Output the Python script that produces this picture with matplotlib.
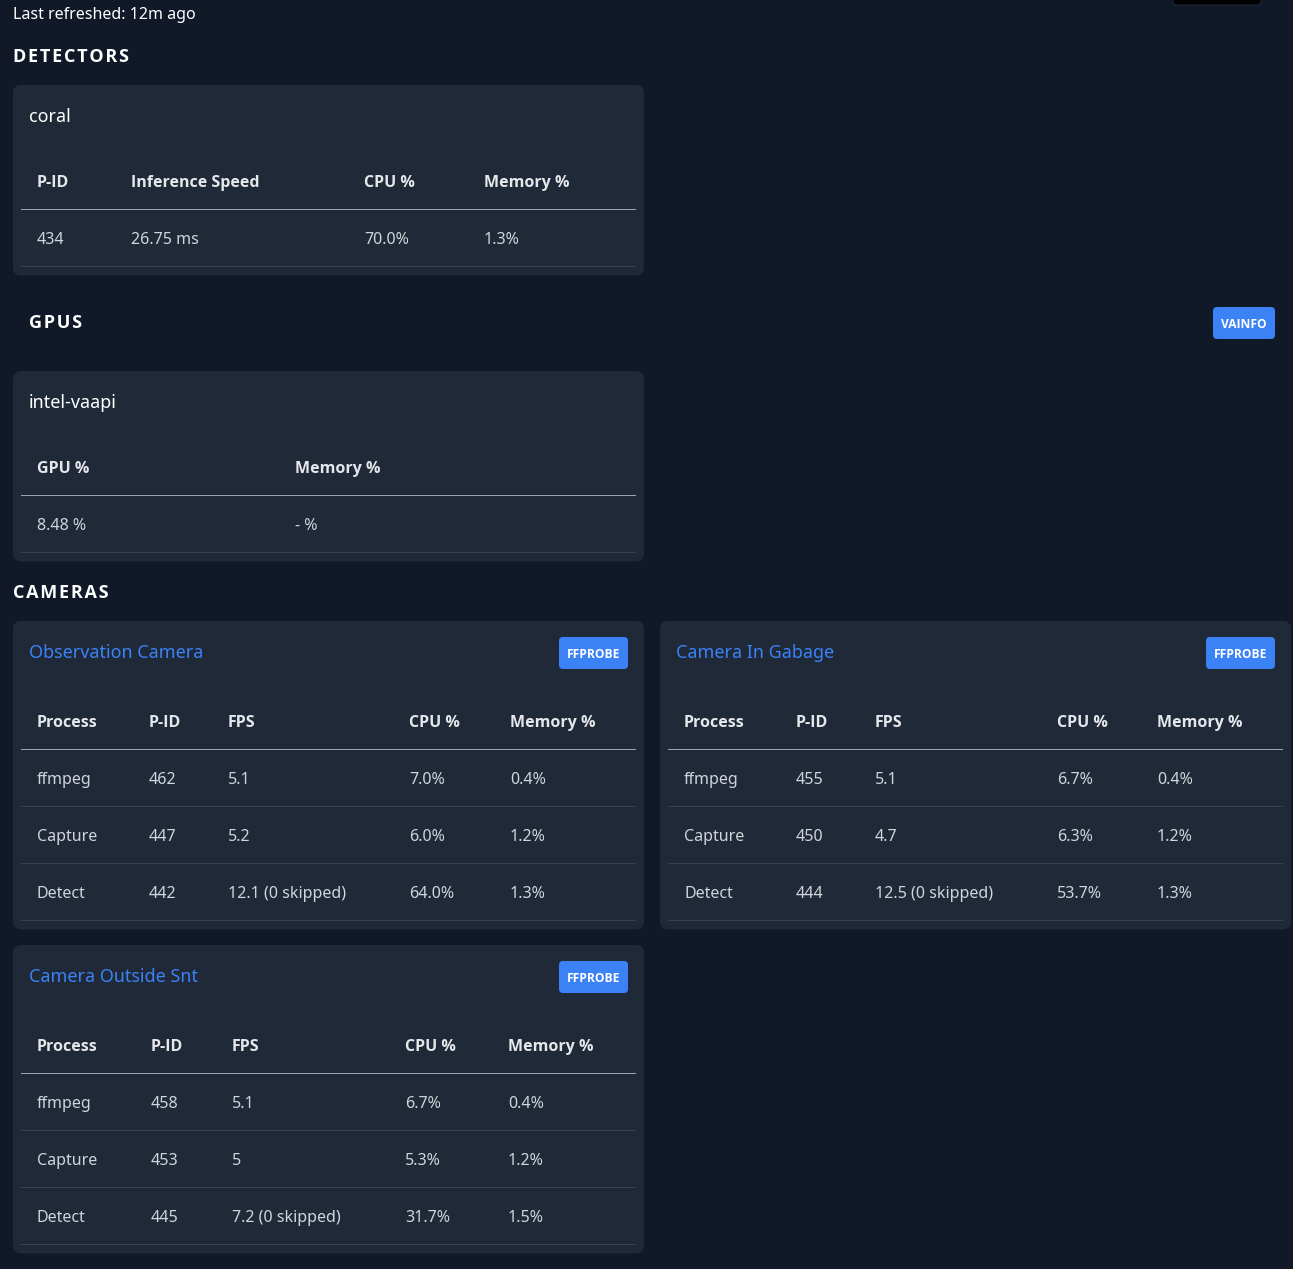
import matplotlib
matplotlib.use('Agg')
import matplotlib.pyplot as plt
from matplotlib.patches import FancyBboxPatch

plt.rcParams['font.family'] = ['Noto Sans', 'DejaVu Sans']

BG = '#111827'
CARD = '#1f2937'
BLUE = '#3b82f6'
PX = 0.72  # css px to points at dpi 100
# the Noto Sans here is a variable font with no bold face, Open Sans is close
BOLD = ['Open Sans', 'DejaVu Sans']

refreshed = 'Last refreshed: 12m ago'
section_names = ['DETECTORS', 'GPUS', 'CAMERAS']

coral_head = ['P-ID', 'Inference Speed', 'CPU %', 'Memory %']
coral_rows = [['434', '26.75 ms', '70.0%', '1.3%']]

gpu_head = ['GPU %', 'Memory %']
gpu_rows = [['8.48 %', '- %']]

cam_head = ['Process', 'P-ID', 'FPS', 'CPU %', 'Memory %']
observation_rows = [['ffmpeg', '462', '5.1', '7.0%', '0.4%'],
                    ['Capture', '447', '5.2', '6.0%', '1.2%'],
                    ['Detect', '442', '12.1 (0 skipped)', '64.0%', '1.3%']]
gabage_rows = [['ffmpeg', '455', '5.1', '6.7%', '0.4%'],
               ['Capture', '450', '4.7', '6.3%', '1.2%'],
               ['Detect', '444', '12.5 (0 skipped)', '53.7%', '1.3%']]
outside_rows = [['ffmpeg', '458', '5.1', '6.7%', '0.4%'],
                ['Capture', '453', '5', '5.3%', '1.2%'],
                ['Detect', '445', '7.2 (0 skipped)', '31.7%', '1.5%']]

fig = plt.figure(figsize=(12.93, 12.69), dpi=100, facecolor=BG)
ax = fig.add_axes([0, 0, 1, 1])
ax.set_xlim(0, 1293)
ax.set_ylim(1269, 0)
ax.axis('off')


def box(x0, y0, x1, y1, color, r=8, z=1, edge='none'):
    ax.add_patch(FancyBboxPatch((x0 + r, y0 + r), x1 - x0 - 2 * r, y1 - y0 - 2 * r,
                                boxstyle='round,pad={},rounding_size={}'.format(r, r),
                                fc=color, ec=edge, lw=0.7, zorder=z))


def label(x, y, s, size=16, color='#ffffff', bold=False, ha='left'):
    if bold:
        ax.text(x, y, s, fontsize=size * PX, color=color, family=BOLD, fontweight='bold',
                ha=ha, va='baseline', zorder=5)
    else:
        ax.text(x, y, s, fontsize=size * PX, color=color, ha=ha, va='baseline', zorder=5)


def spaced(s):
    return '\u200a'.join(s)


def hline(x0, x1, y, color):
    ax.plot([x0, x1], [y + 0.5, y + 0.5], color=color, lw=0.72, zorder=3,
            solid_capstyle='butt', snap=False)


def button(x0, y0, x1, y1, s):
    box(x0, y0, x1, y1, BLUE, r=4, z=3)
    label((x0 + x1) / 2, (y0 + y1) / 2 + 4.5, s, size=12, bold=True, ha='center')


def card(x0, y0, x1, y1, title, title_color, head, rows, cols, head_y):
    box(x0, y0 + 1, x1, y1 + 1, '#171f2c', z=1)
    box(x0, y0, x1, y1, CARD, z=2)
    label(x0 + 16, y0 + 37, title, size=18, color=title_color)
    for x, s in zip(cols, head):
        label(x, head_y + 6, s, color='#e5e7eb', bold=True)
    line_y = head_y + 28
    hline(x0 + 8, x1 - 8, line_y, '#9ca3af')
    for i, row in enumerate(rows):
        for x, s in zip(cols, row):
            label(x, head_y + 63 + 57 * i, s, color='#d1d5db')
        hline(x0 + 8, x1 - 8, line_y + 57 * (i + 1), '#374151')


label(13, 19, refreshed)
label(13, 62, spaced(section_names[0]), size=18, bold=True)
label(29, 328, spaced(section_names[1]), size=18, bold=True)
label(13, 598, spaced(section_names[2]), size=18, bold=True)

box(1173, -10, 1261, 5, '#000000', r=4, z=3, edge='#1f2937')
button(1213, 307, 1275, 339, 'VAINFO')

card(13, 85, 644, 275, 'coral', '#ffffff', coral_head, coral_rows,
     [37, 131, 364, 484], 181)
card(13, 371, 644, 561, 'intel-vaapi', '#ffffff', gpu_head, gpu_rows,
     [37, 295], 467)
card(13, 621, 644, 929, 'Observation Camera', BLUE, cam_head, observation_rows,
     [37, 149, 228, 409, 510], 721)
card(660, 621, 1291, 929, 'Camera In Gabage', BLUE, cam_head, gabage_rows,
     [684, 796, 875, 1057, 1157], 721)
card(13, 945, 644, 1253, 'Camera Outside Snt', BLUE, cam_head, outside_rows,
     [37, 151, 232, 405, 508], 1045)

button(559, 637, 628, 669, 'FFPROBE')
button(1206, 637, 1275, 669, 'FFPROBE')
button(559, 961, 628, 993, 'FFPROBE')

fig.savefig('out.png', dpi=100, facecolor=BG)
